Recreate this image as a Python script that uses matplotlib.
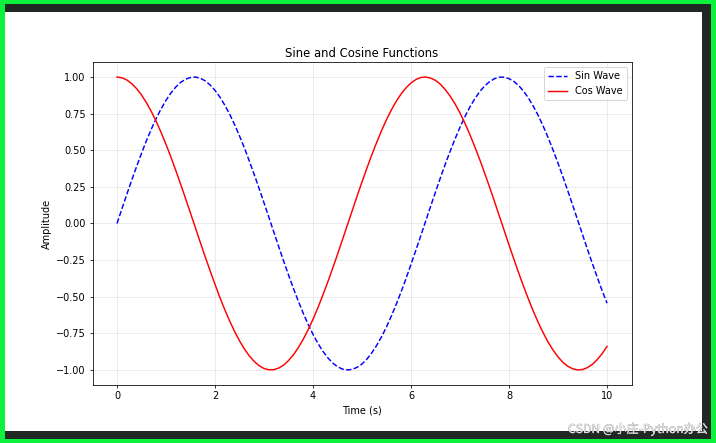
import numpy as np
import matplotlib
matplotlib.use('Agg')
import matplotlib.pyplot as plt
from matplotlib.patches import Rectangle
import matplotlib.patheffects as pe

time_s = [round(0.1 * i, 1) for i in range(101)]

sin_wave = [0.000, 0.100, 0.199, 0.296, 0.389, 0.479, 0.565, 0.644, 0.717, 0.783,
            0.841, 0.891, 0.932, 0.964, 0.985, 0.997, 1.000, 0.992, 0.974, 0.946,
            0.909, 0.863, 0.808, 0.746, 0.675, 0.598, 0.516, 0.427, 0.335, 0.239,
            0.141, 0.042, -0.058, -0.158, -0.256, -0.351, -0.443, -0.530, -0.612, -0.688,
            -0.757, -0.818, -0.872, -0.916, -0.952, -0.978, -0.994, -1.000, -0.996, -0.982,
            -0.959, -0.926, -0.883, -0.832, -0.773, -0.706, -0.631, -0.551, -0.465, -0.374,
            -0.279, -0.182, -0.083, 0.017, 0.117, 0.215, 0.312, 0.405, 0.494, 0.578,
            0.657, 0.729, 0.794, 0.851, 0.899, 0.938, 0.968, 0.988, 0.999, 0.999,
            0.989, 0.970, 0.941, 0.902, 0.855, 0.798, 0.735, 0.663, 0.585, 0.501,
            0.412, 0.319, 0.223, 0.124, 0.025, -0.075, -0.175, -0.272, -0.366, -0.458,
            -0.544]

cos_wave = [1.000, 0.995, 0.980, 0.955, 0.921, 0.878, 0.825, 0.765, 0.697, 0.622,
            0.540, 0.454, 0.362, 0.267, 0.170, 0.071, -0.029, -0.129, -0.227, -0.323,
            -0.416, -0.505, -0.589, -0.666, -0.737, -0.801, -0.857, -0.904, -0.942, -0.971,
            -0.990, -0.999, -0.998, -0.987, -0.967, -0.936, -0.897, -0.848, -0.791, -0.726,
            -0.654, -0.575, -0.490, -0.401, -0.307, -0.211, -0.112, -0.012, 0.087, 0.187,
            0.284, 0.378, 0.469, 0.554, 0.635, 0.709, 0.776, 0.835, 0.886, 0.927,
            0.960, 0.983, 0.997, 1.000, 0.993, 0.977, 0.951, 0.914, 0.869, 0.816,
            0.754, 0.685, 0.608, 0.526, 0.439, 0.347, 0.252, 0.154, 0.054, -0.046,
            -0.146, -0.244, -0.340, -0.432, -0.519, -0.602, -0.678, -0.748, -0.811, -0.865,
            -0.911, -0.948, -0.975, -0.992, -1.000, -0.997, -0.984, -0.962, -0.930, -0.889,
            -0.839]

W, H, DPI = 716, 443, 70
fig = plt.figure(figsize=(W / DPI, H / DPI), dpi=DPI)
fig.patch.set_facecolor('#0cf23c')

# screenshot frame: dark band and white page
fig.add_artist(Rectangle((5 / W, 1 - 439 / H), (711 - 5) / W, (439 - 4) / H,
                         transform=fig.transFigure, facecolor='#1f2822', edgecolor='none', zorder=0))
fig.add_artist(Rectangle((4.5 / W, 1 - 430.5 / H), (702 - 4.5) / W, (430.5 - 12) / H,
                         transform=fig.transFigure, facecolor='white', edgecolor='none', zorder=0))

ax = fig.add_axes([92.5 / W, 1 - 384.6 / H, (631.5 - 92.5) / W, (384.6 - 62.4) / H])
ax.plot(time_s, sin_wave, color='blue', linestyle='--', label='Sin Wave')
ax.plot(time_s, cos_wave, color='red', label='Cos Wave')
ax.set_xlim(-0.5, 10.5)
ax.set_ylim(-1.1, 1.1)
ax.set_title('Sine and Cosine Functions')
ax.set_xlabel('Time (s)')
ax.set_ylabel('Amplitude')
ax.grid(True, alpha=0.3)
ax.legend(loc='upper right')

fig.text(708 / W, 1 - 433 / H, 'CSDN @小庄-Python办公', ha='right', va='baseline',
         fontsize=12.5, fontweight='light', color='#e4e4e4',
         family=['Noto Sans CJK SC', 'DejaVu Sans'], zorder=5,
         path_effects=[pe.withStroke(linewidth=0.5, foreground='#8a8a8a')])

fig.savefig('out.png', dpi=DPI, facecolor=fig.get_facecolor())
